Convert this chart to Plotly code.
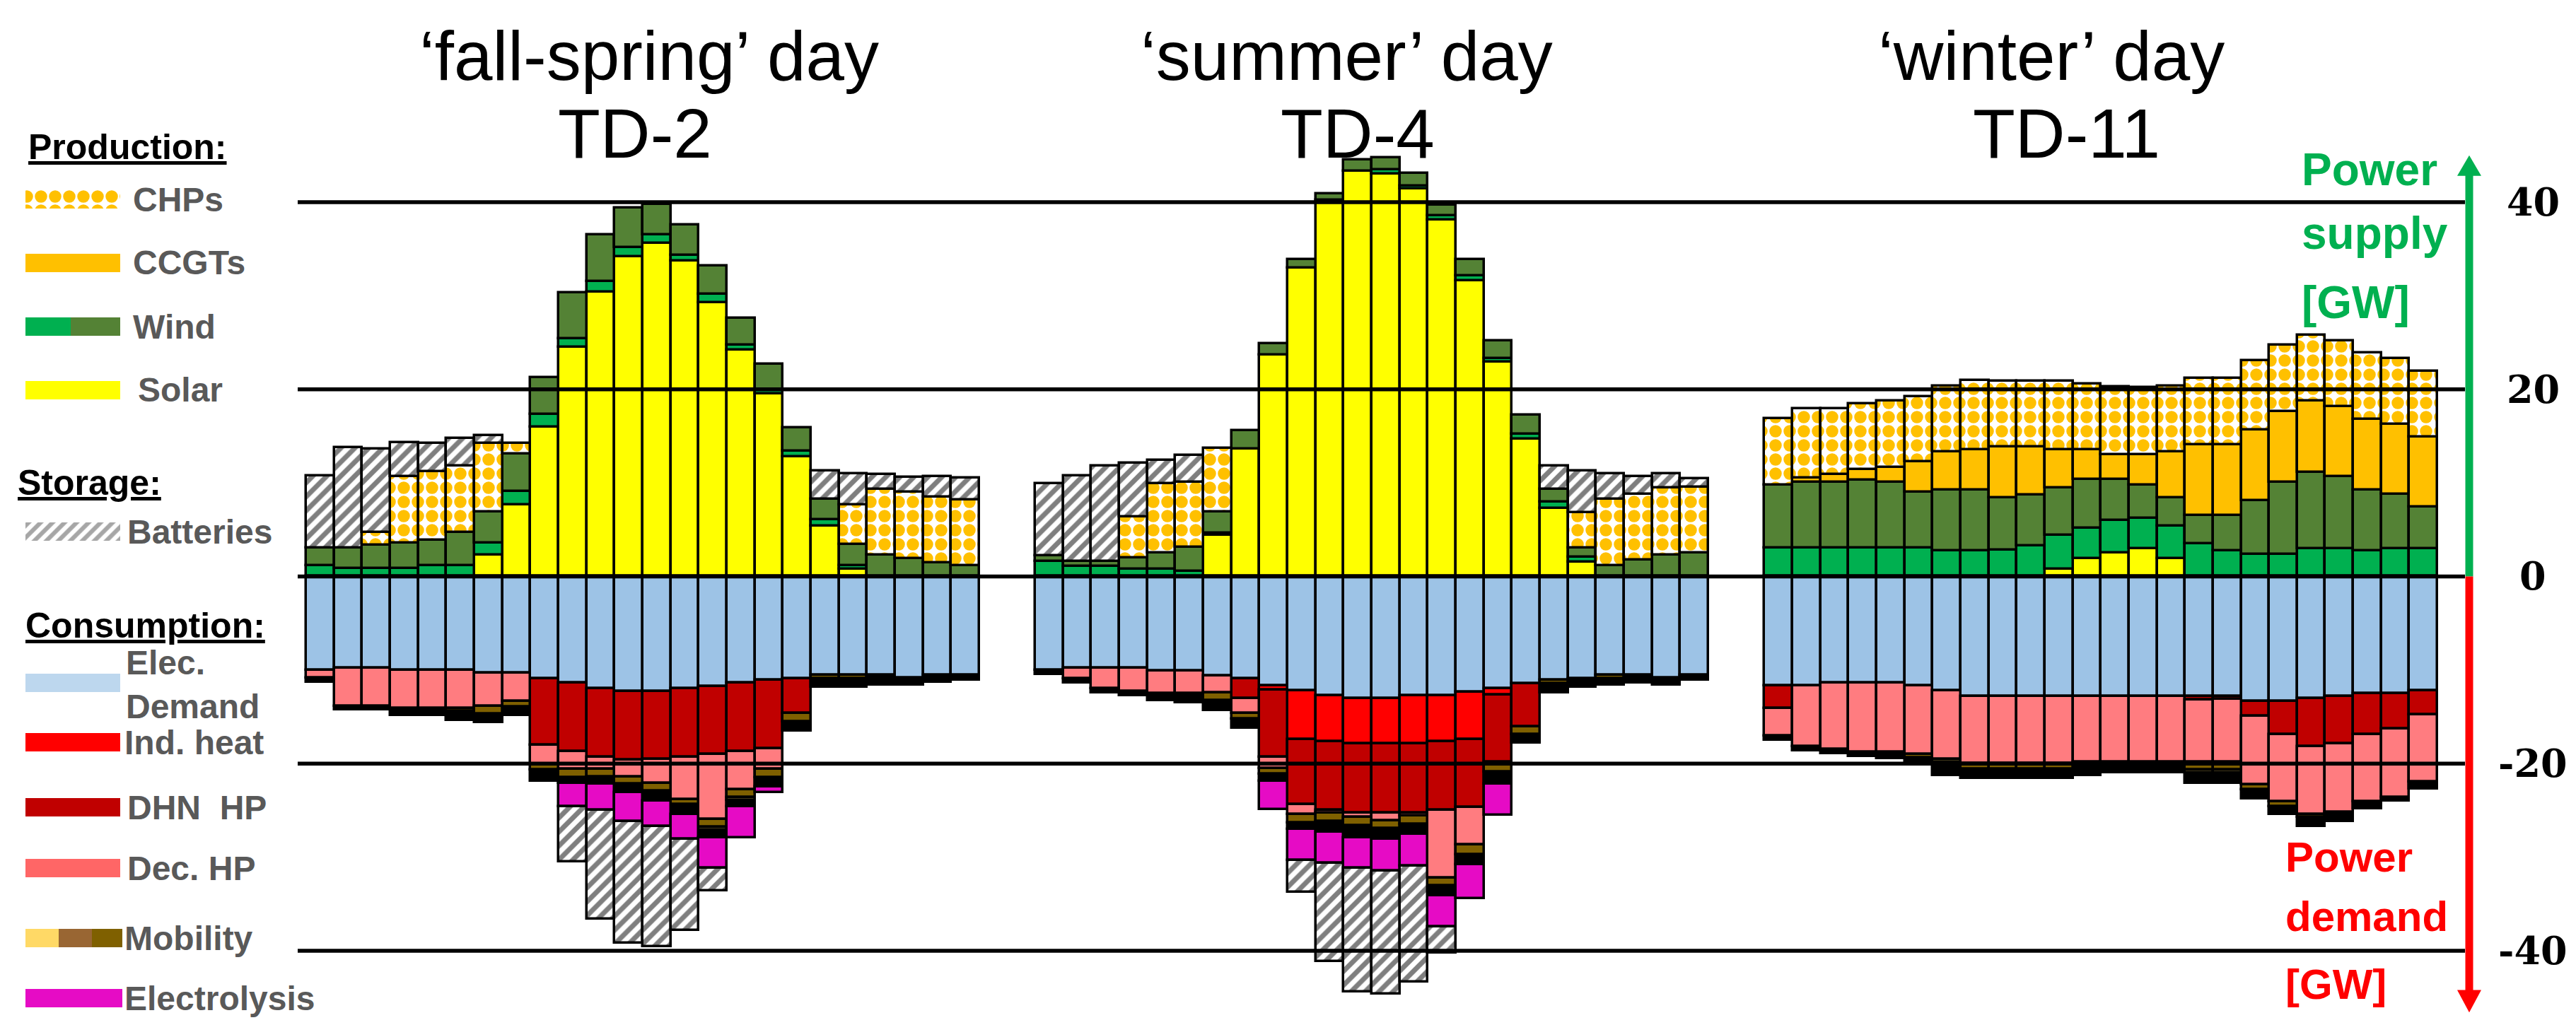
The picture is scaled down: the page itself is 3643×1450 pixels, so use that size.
import plotly.graph_objects as go

W, H = 3643, 1450

# ---- data: hourly power balance [GW] for the three typical days ----
hours = list(range(24))
day_titles = ["‘fall-spring’ day", "‘summer’ day", "‘winter’ day"]
day_ids = ["TD-2", "TD-4", "TD-11"]

# supply side (stacked upward, bottom to top)
solar_td2 = [0, 0, 0, 0, 0, 0, 2.3, 7.7, 16.0, 24.5, 30.4, 34.2, 35.6, 33.7, 29.3, 24.2, 19.5, 12.8, 5.4, 0.8, 0, 0, 0, 0]
solar_td4 = [0, 0, 0, 0, 0, 0, 4.4, 13.6, 23.7, 32.95, 40.2, 43.3, 43.0, 41.4, 38.1, 31.6, 22.9, 14.7, 7.3, 1.55, 0, 0, 0, 0]
solar_td11 = [0, 0, 0, 0, 0, 0, 0, 0, 0, 0, 0.8, 1.9, 2.5, 3.0, 1.9, 0, 0, 0, 0, 0, 0, 0, 0, 0]

wind_on_td2 = [1.2, 0.9, 0.9, 0.9, 1.2, 1.2, 1.3, 1.4, 1.35, 0.9, 1.1, 0.95, 0.9, 0.6, 0.9, 0.5, 0.5, 0.6, 0.7, 0.4, 0, 0, 0, 0]
wind_on_td4 = [1.65, 1.1, 1.1, 0.8, 0.8, 0.6, 0.25, 0, 0, 0, 0, 0, 0.45, 0.3, 0.45, 0.5, 0.4, 0.5, 0.7, 0.55, 0, 0, 0, 0]
wind_on_td11 = [3.05, 3.05, 3.05, 3.05, 3.05, 3.05, 2.75, 2.75, 2.8, 3.3, 3.6, 3.3, 3.5, 3.25, 3.5, 3.5, 2.75, 2.4, 2.4, 3.0, 3.0, 2.75, 3.0, 3.0]

wind_off_td2 = [1.85, 2.15, 2.45, 2.7, 2.7, 3.5, 3.3, 4.0, 3.9, 4.9, 5.0, 4.25, 3.3, 3.3, 3.0, 2.9, 2.7, 2.5, 2.15, 2.2, 2.3, 1.95, 1.45, 1.2]
wind_off_td4 = [0.55, 0.55, 0.55, 1.2, 1.7, 2.5, 2.25, 2.0, 1.15, 0.9, 0.7, 1.2, 1.3, 1.4, 1.15, 1.8, 1.9, 2.05, 1.3, 0.95, 1.2, 1.8, 2.3, 2.5]
wind_off_td11 = [6.75, 7.0, 7.0, 7.25, 7.0, 5.95, 6.5, 6.5, 5.65, 5.4, 5.1, 5.15, 4.35, 3.5, 3.0, 3.0, 3.8, 5.75, 7.65, 8.15, 7.65, 6.5, 5.8, 4.4]

ccgt_td2 = [0] * 24
ccgt_td4 = [0] * 24
ccgt_td11 = [0, 0.5, 0.85, 1.15, 1.65, 3.25, 4.05, 4.3, 5.4, 5.15, 4.05, 3.2, 2.65, 3.25, 4.9, 7.6, 7.55, 7.55, 7.6, 7.6, 7.5, 7.55, 7.45, 7.5]

chp_td2 = [0, 0, 1.4, 7.1, 7.3, 7.1, 7.3, 1.1, 0, 0, 0, 0, 0, 0, 0, 0, 0, 0, 0, 4.3, 7.0, 7.05, 7.05, 7.0]
chp_td4 = [0, 0, 0, 4.35, 7.4, 7.0, 6.8, 0, 0, 0, 0, 0, 0, 0, 0, 0, 0, 0, 0, 3.8, 7.05, 7.0, 7.2, 7.05]
chp_td11 = [7.1, 7.35, 7.0, 7.0, 7.1, 7.0, 7.05, 7.4, 7.0, 7.0, 7.3, 7.05, 7.3, 7.2, 7.05, 7.05, 7.05, 7.4, 7.05, 7.05, 7.05, 7.1, 7.05, 7.05]

batt_out_td2 = [7.7, 10.7, 8.9, 3.6, 3.0, 3.0, 0.9, 0, 0, 0, 0, 0, 0, 0, 0, 0, 0, 0, 3.05, 3.3, 1.6, 1.6, 2.2, 2.3]
batt_out_td4 = [7.7, 9.1, 10.15, 5.8, 2.5, 2.85, 0, 0, 0, 0, 0, 0, 0, 0, 0, 0, 0, 0, 2.55, 4.45, 2.7, 1.85, 1.45, 0.9]
batt_out_td11 = [0] * 24

# demand side (stacked downward, top to bottom), magnitudes
elec_td2 = [10.0, 9.8, 9.8, 10.0, 10.0, 10.0, 10.35, 10.35, 10.9, 11.4, 12.0, 12.25, 12.25, 12.0, 11.75, 11.4, 11.1, 10.9, 10.55, 10.55, 10.55, 10.85, 10.55, 10.55]
elec_td4 = [10.0, 9.8, 9.8, 9.8, 10.1, 10.1, 10.6, 10.9, 11.7, 12.2, 12.75, 13.05, 13.05, 12.75, 12.75, 12.35, 11.95, 11.45, 11.1, 10.9, 10.55, 10.55, 10.85, 10.55]
elec_td11 = [11.7, 11.7, 11.4, 11.4, 11.4, 11.7, 12.2, 12.8, 12.8, 12.8, 12.8, 12.8, 12.8, 12.8, 12.8, 12.8, 12.8, 13.35, 13.35, 13.0, 12.8, 12.5, 12.5, 12.2]

ind_heat_td2 = [0] * 24
ind_heat_td4 = [0, 0, 0, 0, 0, 0, 0, 0, 0.4, 5.2, 4.9, 4.85, 4.85, 5.15, 4.9, 5.1, 0.7, 0, 0, 0, 0, 0, 0, 0]
ind_heat_td11 = [0] * 24

dhn_hp_td2 = [0, 0, 0, 0, 0, 0, 0, 0, 7.1, 7.3, 7.3, 7.35, 7.25, 7.3, 7.25, 7.3, 7.3, 3.7, 0, 0, 0, 0, 0, 0]
dhn_hp_td4 = [0, 0, 0, 0, 0, 0, 0, 2.15, 7.2, 7.0, 7.35, 7.35, 7.35, 7.35, 7.35, 7.25, 7.15, 4.6, 0, 0, 0, 0, 0, 0]
dhn_hp_td11 = [2.4, 0, 0, 0, 0, 0, 0, 0, 0, 0, 0, 0, 0, 0, 0, 0.35, 0.3, 1.55, 3.5, 5.2, 5.1, 4.4, 3.8, 2.55]

dec_hp_td2 = [0.85, 4.1, 4.1, 4.1, 4.1, 4.1, 3.55, 2.95, 2.1, 1.9, 1.3, 1.8, 2.6, 4.5, 6.95, 4.1, 2.2, 0, 0, 0, 0, 0, 0, 0]
dec_hp_td4 = [0, 1.1, 2.2, 2.5, 2.4, 2.4, 1.85, 1.6, 1.25, 1.05, 0.3, 0.5, 0.85, 0.35, 7.2, 4.0, 0, 0, 0, 0, 0, 0, 0, 0]
dec_hp_td11 = [2.95, 6.5, 7.05, 7.35, 7.35, 7.3, 7.35, 7.2, 7.2, 7.2, 7.2, 7.0, 7.0, 7.0, 7.0, 6.65, 6.7, 7.35, 7.2, 7.25, 7.3, 7.2, 7.3, 7.2]

mob_td2 = [0, 0, 0, 0, 0, 0.3, 0.8, 0.65, 0.6, 0.9, 0.85, 0.8, 0.8, 0.55, 0.85, 0.8, 0.9, 0.9, 0.35, 0.35, 0, 0, 0, 0]
mob_td4 = [0, 0, 0, 0, 0, 0, 0.8, 0.55, 0.55, 0.85, 0.85, 0.9, 0.85, 0.85, 0.85, 1.05, 1.1, 0.8, 0.35, 0, 0.35, 0, 0, 0]
mob_td11 = [0, 0, 0, 0, 0, 0.35, 0, 0.6, 0.6, 0.6, 0.6, 0.3, 0.3, 0, 0.3, 0.9, 0.9, 0.5, 0.55, 0.3, 0, 0, 0, 0]

mob_ev_td2 = [0, 0, 0, 0, 0, 0, 0, 0, 0, 0, 0, 0, 0, 0.25, 0.3, 0.3, 0, 0, 0, 0, 0, 0, 0, 0]
mob_ev_td4 = [0] * 24
mob_ev_td11 = [0, 0, 0, 0, 0, 0, 0.25, 0, 0, 0, 0, 0, 0, 0.25, 0, 0.25, 0.25, 0, 0, 0, 0, 0, 0, 0]

other_td2 = [0.45, 0.35, 0.35, 0.75, 0.75, 0.95, 0.9, 0.9, 1.2, 0.6, 0.75, 0.9, 1.1, 0.8, 0.8, 0.7, 0.95, 1.0, 0.9, 0.9, 1.05, 0.75, 0.75, 0.5]
other_td4 = [0.5, 0.45, 0.4, 0.4, 0.75, 1.0, 1.05, 1.0, 0.8, 0.7, 1.15, 1.25, 1.15, 1.1, 1.05, 1.0, 1.3, 0.95, 0.95, 0.95, 0.7, 0.8, 0.75, 0.5]
other_td11 = [0.45, 0.4, 0.45, 0.45, 0.7, 0.4, 1.5, 1.0, 1.0, 1.0, 1.0, 1.2, 0.9, 0.95, 0.9, 1.15, 1.15, 1.0, 0.8, 0.95, 1.0, 0.75, 0.4, 0.75]

elys_td2 = [0, 0, 0, 0, 0, 0, 0, 0, 0, 2.5, 2.8, 3.05, 2.7, 2.7, 3.3, 3.3, 0.65, 0, 0, 0, 0, 0, 0, 0]
elys_td4 = [0, 0, 0, 0, 0, 0, 0, 0, 3.0, 3.35, 3.35, 3.3, 3.35, 3.4, 3.3, 3.65, 3.3, 0, 0, 0, 0, 0, 0, 0]
elys_td11 = [0] * 24

batt_in_td2 = [0, 0, 0, 0, 0, 0, 0, 0, 0, 5.9, 11.6, 13.05, 12.85, 9.7, 2.35, 0, 0, 0, 0, 0, 0, 0, 0, 0]
batt_in_td4 = [0, 0, 0, 0, 0, 0, 0, 0, 0, 3.4, 10.5, 13.15, 13.15, 12.35, 2.85, 0, 0, 0, 0, 0, 0, 0, 0, 0]
batt_in_td11 = [0] * 24

y_ticks = [40, 20, 0, -20, -40]

# ---- layout helpers ----
day_offset = [0, 26, 52]
x_pos = [h + off for off in day_offset for h in hours]


def px(x):
    return x / W


def py(y):
    return 1 - y / H


checker = dict(shape=".", fgcolor="#FFC000", bgcolor="white", fgopacity=1, size=20, solidity=0.6)
hatch = dict(shape="/", fgcolor="#7F7F7F", bgcolor="white", fgopacity=1, size=14, solidity=0.5)

supply = [
    (solar_td2 + solar_td4 + solar_td11, "#FFFF00", None),
    (wind_on_td2 + wind_on_td4 + wind_on_td11, "#00B050", None),
    (wind_off_td2 + wind_off_td4 + wind_off_td11, "#548235", None),
    (ccgt_td2 + ccgt_td4 + ccgt_td11, "#FFC000", None),
    (chp_td2 + chp_td4 + chp_td11, "#FFC000", checker),
    (batt_out_td2 + batt_out_td4 + batt_out_td11, "white", hatch),
]
demand = [
    (elec_td2 + elec_td4 + elec_td11, "#9DC3E6", None),
    (ind_heat_td2 + ind_heat_td4 + ind_heat_td11, "#FF0000", None),
    (dhn_hp_td2 + dhn_hp_td4 + dhn_hp_td11, "#C00000", None),
    (dec_hp_td2 + dec_hp_td4 + dec_hp_td11, "#FF7C80", None),
    (mob_td2 + mob_td4 + mob_td11, "#7F6000", None),
    (mob_ev_td2 + mob_ev_td4 + mob_ev_td11, "#FFD966", None),
    (other_td2 + other_td4 + other_td11, "#000000", None),
    (elys_td2 + elys_td4 + elys_td11, "#E60BC5", None),
    (batt_in_td2 + batt_in_td4 + batt_in_td11, "white", hatch),
]

fig = go.Figure()

for vals, col, pat in supply:
    fig.add_trace(go.Bar(
        x=x_pos, y=[v if v else None for v in vals], width=1,
        marker=dict(color=col, line=dict(color="black", width=3.5), pattern=pat),
        showlegend=False, hoverinfo="skip"))

for vals, col, pat in demand:
    fig.add_trace(go.Bar(
        x=x_pos, y=[-v if v else None for v in vals], width=1,
        marker=dict(color=col, line=dict(color="black", width=3.5), pattern=pat),
        showlegend=False, hoverinfo="skip"))

# legend swatches drawn as bars on a hidden pixel-scaled axis
legend_rows = [
    (274, [(134, "#FFC000", dict(shape=".", fgcolor="#FFC000", bgcolor="white", fgopacity=1, size=20, solidity=0.6))]),
    (364, [(134, "#FFC000", None)]),
    (454, [(64, "#00B050", None), (70, "#548235", None)]),
    (544, [(134, "#FFFF00", None)]),
    (744, [(134, "white", dict(shape="/", fgcolor="#A6A6A6", bgcolor="white", fgopacity=1, size=12, solidity=0.5))]),
    (958, [(134, "#BDD7EE", None)]),
    (1042, [(134, "#FF0000", None)]),
    (1134, [(134, "#C00000", None)]),
    (1220, [(134, "#FF6666", None)]),
    (1319, [(47, "#FFD966", None), (47, "#996633", None), (43, "#7F6000", None)]),
    (1404, [(137, "#E60BC5", None)]),
]
for yrow, segs in legend_rows:
    for length, col, pat in segs:
        fig.add_trace(go.Bar(
            x=[length], y=[yrow], orientation="h", width=26,
            marker=dict(color=col, line=dict(width=0), pattern=pat),
            xaxis="x2", yaxis="y2", showlegend=False, hoverinfo="skip"))

anns = []
font_main = "Liberation Sans, Arial, sans-serif"

# day titles
title_x = [(910, 890), (1897, 1912), (2893, 2914)]
for (x1, x2), t1, t2 in zip(title_x, day_titles, day_ids):
    anns.append(dict(text=t1, x=px(x1), y=py(71), xanchor="center", yanchor="middle",
                     font=dict(family=font_main, size=98, color="black")))
    anns.append(dict(text=t2, x=px(x2), y=py(181), xanchor="center", yanchor="middle",
                     font=dict(family=font_main, size=98, color="black")))

# legend headings and labels
headings = [("Production:", 30, 200), ("Storage:", 15, 675), ("Consumption:", 26, 877)]
for txt, x, y in headings:
    anns.append(dict(text="<u><b>" + txt + "</b></u>", x=px(x), y=py(y), xanchor="left", yanchor="middle",
                     font=dict(family=font_main, size=50, color="black")))

labels = [("CHPs", 178, 274), ("CCGTs", 178, 364), ("Wind", 178, 454), ("Solar", 185, 544),
          ("Batteries", 170, 744), ("Elec.<br>Demand", 168, 960), ("Ind. heat", 166, 1042),
          ("DHN  HP", 170, 1134), ("Dec. HP", 170, 1220), ("Mobility", 166, 1319),
          ("Electrolysis", 166, 1404)]
for txt, x, y in labels:
    anns.append(dict(text="<b>" + txt + "</b>", x=px(x), y=py(y), xanchor="left", yanchor="middle",
                     align="left", font=dict(family=font_main, size=48, color="#595959")))

# right-hand value labels
for t in y_ticks:
    anns.append(dict(text="<b>" + str(t) + "</b>", x=px(3574), y=t, yref="y", xanchor="center",
                     yanchor="middle", font=dict(family="DejaVu Serif, Liberation Serif, serif",
                                                 size=54, color="black")))

# power supply / demand labels
for txt, y in [("Power", 232), ("supply", 322), ("[GW]", 420)]:
    anns.append(dict(text="<b>" + txt + "</b>", x=px(3245), y=py(y), xanchor="left", yanchor="middle",
                     font=dict(family=font_main, size=64, color="#00B050")))
for txt, y in [("Power", 1204), ("demand", 1288), ("[GW]", 1384)]:
    anns.append(dict(text="<b>" + txt + "</b>", x=px(3222), y=py(y), xanchor="left", yanchor="middle",
                     font=dict(family=font_main, size=60, color="#FF0000")))

for a in anns:
    a.setdefault("xref", "paper")
    a.setdefault("yref", "paper")
    a["showarrow"] = False

shapes = []
# horizontal reference lines drawn over the bars
for t in y_ticks:
    shapes.append(dict(type="line", xref="paper", yref="y", x0=px(413), x1=px(3478), y0=t, y1=t,
                       line=dict(color="black", width=5.5), layer="above"))

# supply / demand arrow
ax = px(3484)
shapes.append(dict(type="line", xref="paper", yref="y", x0=ax, x1=ax, y0=0, y1=43.2,
                   line=dict(color="#00B050", width=11), layer="above"))
shapes.append(dict(type="path", xref="paper", yref="y",
                   path=f"M {px(3484)},45.0 L {px(3467)},42.8 L {px(3501)},42.8 Z",
                   fillcolor="#00B050", line=dict(width=0), layer="above"))
shapes.append(dict(type="line", xref="paper", yref="y", x0=ax, x1=ax, y0=0, y1=-44.4,
                   line=dict(color="#FF0000", width=11), layer="above"))
shapes.append(dict(type="path", xref="paper", yref="y",
                   path=f"M {px(3484)},-46.6 L {px(3467)},-44.2 L {px(3501)},-44.2 Z",
                   fillcolor="#FF0000", line=dict(width=0), layer="above"))

fig.update_layout(
    width=W, height=H,
    margin=dict(l=0, r=0, t=0, b=0, autoexpand=False),
    paper_bgcolor="white", plot_bgcolor="rgba(0,0,0,0)",
    barmode="relative", bargap=0,
    showlegend=False,
    xaxis=dict(domain=[px(413), px(3478)], range=[-0.8026, 76.48], visible=False, fixedrange=True),
    yaxis=dict(domain=[py(1436), py(172)], range=[-47.48, 48], visible=False, fixedrange=True),
    xaxis2=dict(domain=[0, px(400)], range=[-28, 372], visible=False, anchor="y2"),
    yaxis2=dict(domain=[0, 1], range=[H, 0], visible=False, anchor="x2"),
    annotations=anns,
    shapes=shapes,
)

fig.write_html("out.html")
